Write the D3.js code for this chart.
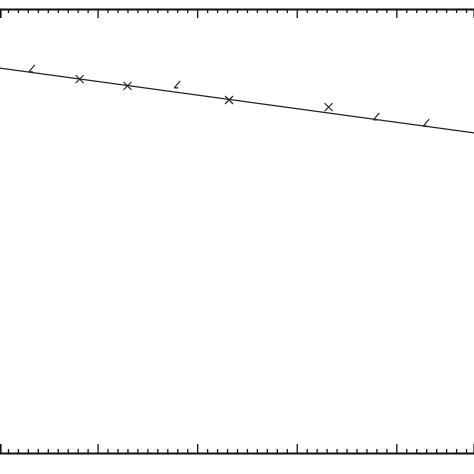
<!DOCTYPE html>
<html>
<head>
<meta charset="utf-8">
<script src="https://cdn.jsdelivr.net/npm/d3@7"></script>
<style>
  body { margin: 0; background: #fff; }
  svg { display: block; }
</style>
</head>
<body>
<div id="chart"></div>
<script>
var width = 474,
    height = 474;

// fitted line (two ends) and the measured points
var lineX = [0.02, 4.78];
var lineY = [86.7, 72.1];
var pointX = [0.34, 0.82, 1.30, 1.80, 2.32, 3.32, 3.80, 4.30];
var pointY = [86.5, 84.2, 82.7, 82.9, 79.5, 77.9, 75.7, 74.3];
var pointKind = ["slash", "x", "x", "slash", "x", "x", "slash", "slash"];
var majorTicks = [1, 2, 3, 4];

var x = d3.scaleLinear()
    .domain([0.02, 4.78])
    .range([0, width]);

var y = d3.scaleLinear()
    .domain([0, 100])
    .range([453, 9]);

var svg = d3.select("#chart").append("svg")
    .attr("width", width)
    .attr("height", height);

svg.append("rect")
    .attr("width", width)
    .attr("height", height)
    .attr("fill", "white");

var minorTicks = d3.range(0, 48).map(function (d) { return d / 10; })
    .filter(function (d) { return d >= 0.05 && Math.abs(d - Math.round(d)) > 0.01; });

// top axis, ticks pointing down into the plot
var top_axis = svg.append("g")
    .attr("transform", "translate(0," + y(100) + ")");
top_axis.call(d3.axisBottom(x).tickValues(majorTicks).tickSize(9).tickFormat(""));
top_axis.append("g")
    .call(d3.axisBottom(x).tickValues(minorTicks).tickSize(4).tickFormat(""))
    .select(".domain").remove();

// bottom axis, ticks pointing up
var bottom_axis = svg.append("g")
    .attr("transform", "translate(0," + y(0) + ")");
bottom_axis.call(d3.axisTop(x).tickValues(majorTicks).tickSize(9).tickFormat(""));
bottom_axis.append("g")
    .call(d3.axisTop(x).tickValues(minorTicks).tickSize(4).tickFormat(""))
    .select(".domain").remove();

svg.selectAll(".domain")
    .attr("stroke", "#111")
    .attr("stroke-width", 2.2);
svg.selectAll(".tick line")
    .attr("stroke", "#111")
    .attr("stroke-width", 1.3);

var line = d3.line()
    .x(function (d) { return x(d[0]); })
    .y(function (d) { return y(d[1]); });

svg.append("path")
    .datum(d3.zip(lineX, lineY))
    .attr("d", line)
    .attr("fill", "none")
    .attr("stroke", "#222")
    .attr("stroke-width", 1.2);

svg.selectAll(".pt")
    .data(d3.range(pointX.length))
    .enter().append("path")
    .attr("class", "pt")
    .attr("transform", function (i) { return "translate(" + x(pointX[i]) + "," + y(pointY[i]) + ")"; })
    .attr("d", function (i) {
        if (pointKind[i] === "x") return "M-4,-4L4,4M-4,4L4,-4";
        return "M-3,3L3,-4M-3,3L1,3";
    })
    .attr("fill", "none")
    .attr("stroke", "#222")
    .attr("stroke-width", 1.2);
</script>
</body>
</html>
